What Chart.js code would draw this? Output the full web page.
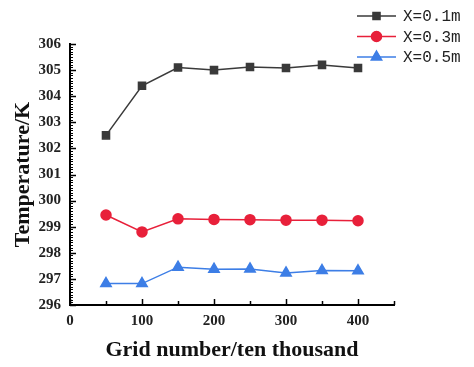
<!DOCTYPE html>
<html>
<head>
<meta charset="utf-8">
<script src="https://cdn.jsdelivr.net/npm/chart.js@4/dist/chart.umd.min.js"></script>
<style>
  html, body { margin: 0; padding: 0; background: #fff; }
  #wrap { width: 474px; height: 367px; }
</style>
</head>
<body>
<div id="wrap"><canvas id="tempChart" width="474" height="367"></canvas></div>
<script>
// data
const gridNumbers = [50, 100, 150, 200, 250, 300, 350, 400];
const tempX01 = [302.5, 304.4, 305.1, 305.0, 305.12, 305.08, 305.2, 305.08];
const tempX03 = [299.45, 298.8, 299.3, 299.28, 299.27, 299.25, 299.25, 299.23];
const tempX05 = [296.82, 296.82, 297.45, 297.37, 297.38, 297.23, 297.32, 297.31];
const seriesLabels = ["X=0.1m", "X=0.3m", "X=0.5m"];
const yTickValues = [296, 297, 298, 299, 300, 301, 302, 303, 304, 305, 306];
const xTickValues = [0, 100, 200, 300, 400];

const serif = "'Liberation Serif', 'Times New Roman', serif";

function toPoints(ys) {
    return gridNumbers.map((x, i) => ({ x: x, y: ys[i] }));
}

// inward ticks + legend, drawn after the chart
const axisDecor = {
    id: "axisDecor",
    afterDraw(chart) {
        const ctx = chart.ctx;
        const xs = chart.scales.x;
        const ys = chart.scales.y;
        const area = chart.chartArea;

        ctx.save();
        ctx.strokeStyle = "#000";

        // y ticks (major every 1, minor every 0.1)
        for (let i = 0; i <= 100; i++) {
            const v = 296 + i * 0.1;
            const py = Math.round(ys.getPixelForValue(v)) + 0.5;
            const len = (i % 10 === 0) ? 6 : 3;
            ctx.lineWidth = (i % 10 === 0) ? 1.5 : 1;
            ctx.beginPath();
            ctx.moveTo(area.left, py);
            ctx.lineTo(area.left + len, py);
            ctx.stroke();
        }

        // x ticks (major every 100, minor every 50)
        ctx.lineWidth = 1.5;
        for (let v = 0; v <= 450; v += 50) {
            const px = Math.round(xs.getPixelForValue(v)) + 0.5;
            const len = (v % 100 === 0) ? 6 : 4;
            ctx.beginPath();
            ctx.moveTo(px, area.bottom);
            ctx.lineTo(px, area.bottom - len);
            ctx.stroke();
        }

        // legend
        ctx.font = "16px 'Liberation Mono', 'DejaVu Sans Mono', monospace";
        ctx.textBaseline = "middle";
        ctx.textAlign = "left";
        chart.data.datasets.forEach((ds, i) => {
            const ly = 16 + i * 20.5;
            const lx0 = 357, lx1 = 396;
            ctx.strokeStyle = ds.borderColor;
            ctx.lineWidth = 1.5;
            ctx.beginPath();
            ctx.moveTo(lx0, ly);
            ctx.lineTo(lx1, ly);
            ctx.stroke();
            Chart.helpers.drawPoint(ctx, {
                pointStyle: ds.pointStyle,
                radius: ds.pointRadius,
                rotation: 0,
                borderWidth: 1
            }, (lx0 + lx1) / 2, ly);
            ctx.fillStyle = ds.pointBackgroundColor;
            ctx.fill();
            ctx.fillStyle = "#222";
            ctx.fillText(ds.label, 403, ly + 1);
        });

        ctx.restore();
    }
};

const ctx = document.getElementById("tempChart").getContext("2d");

new Chart(ctx, {
    type: "line",
    data: {
        datasets: [
            {
                label: seriesLabels[0],
                data: toPoints(tempX01),
                borderColor: "#3a3a3a",
                backgroundColor: "#3a3a3a",
                pointBackgroundColor: "#3a3a3a",
                pointBorderColor: "#3a3a3a",
                pointStyle: "rect",
                pointRadius: 5,
                borderWidth: 1.5
            },
            {
                label: seriesLabels[1],
                data: toPoints(tempX03),
                borderColor: "#e8203a",
                backgroundColor: "#e8203a",
                pointBackgroundColor: "#e8203a",
                pointBorderColor: "#e8203a",
                pointStyle: "circle",
                pointRadius: 5,
                borderWidth: 1.5
            },
            {
                label: seriesLabels[2],
                data: toPoints(tempX05),
                borderColor: "#3d7ee6",
                backgroundColor: "#3d7ee6",
                pointBackgroundColor: "#3d7ee6",
                pointBorderColor: "#3d7ee6",
                pointStyle: "triangle",
                pointRadius: 6,
                borderWidth: 1.5
            }
        ]
    },
    options: {
        responsive: false,
        animation: false,
        layout: { padding: { left: 0, top: 44, right: 80, bottom: 0 } },
        plugins: {
            legend: { display: false },
            tooltip: { enabled: false }
        },
        elements: { line: { tension: 0 } },
        scales: {
            x: {
                type: "linear",
                min: 0,
                max: 450,
                afterFit(scale) { scale.height = 62; },
                afterBuildTicks(scale) { scale.ticks = xTickValues.map(v => ({ value: v })); },
                grid: { display: false, drawTicks: false },
                border: { display: true, color: "#000", width: 2 },
                ticks: {
                    color: "#222",
                    padding: 7,
                    maxRotation: 0,
                    font: { family: serif, size: 15, weight: "bold" }
                },
                title: {
                    display: true,
                    text: "Grid number/ten thousand",
                    color: "#111",
                    padding: { top: 0, bottom: 3 },
                    font: { family: serif, size: 22, weight: "bold" }
                }
            },
            y: {
                type: "linear",
                min: 296,
                max: 306,
                afterFit(scale) { scale.width = 70; },
                afterBuildTicks(scale) { scale.ticks = yTickValues.map(v => ({ value: v })); },
                grid: { display: false, drawTicks: false },
                border: { display: true, color: "#000", width: 2 },
                ticks: {
                    color: "#222",
                    padding: 9,
                    font: { family: serif, size: 15, weight: "bold" }
                },
                title: {
                    display: true,
                    text: "Temperature/K",
                    color: "#111",
                    padding: { top: 10, bottom: 0 },
                    font: { family: serif, size: 22, weight: "bold" }
                }
            }
        }
    },
    plugins: [axisDecor]
});
</script>
</body>
</html>
